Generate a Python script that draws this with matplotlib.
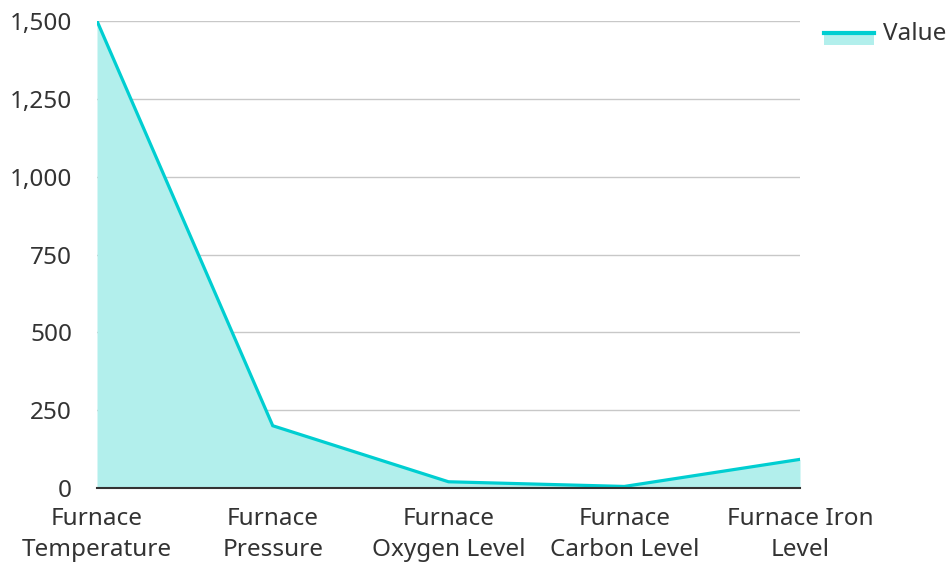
import matplotlib
matplotlib.use("Agg")
import matplotlib.pyplot as plt
from matplotlib.ticker import FuncFormatter
from matplotlib.patches import Rectangle
from matplotlib.lines import Line2D

categories = ["Furnace\nTemperature", "Furnace\nPressure", "Furnace\nOxygen Level",
              "Furnace\nCarbon Level", "Furnace Iron\nLevel"]
values = [1500, 200, 20, 5, 92]
yticks = [0, 250, 500, 750, 1000, 1250, 1500]
series_name = "Value"

plt.rcParams['font.family'] = ['Noto Sans', 'DejaVu Sans']
text_color = "#333333"
line_color = "#00CED1"
fill_color = "#B2EFEC"

fig = plt.figure(figsize=(9.49, 5.62), dpi=100)
ax = fig.add_axes([97/949, 1-488/562, (800-97)/949, (488-21)/562])

x = list(range(len(categories)))
ax.fill_between(x, values, 0, color=fill_color, linewidth=0, zorder=1)
ax.plot(x, values, color=line_color, linewidth=2.3, zorder=3, solid_joinstyle='miter')

ax.set_xlim(0, len(categories) - 1)
ax.set_ylim(0, 1500)
ax.set_yticks(yticks)
ax.yaxis.set_major_formatter(FuncFormatter(lambda v, p: f"{int(v):,}"))
ax.set_xticks(x)
ax.set_xticklabels(categories, linespacing=1.43)

ax.grid(axis='y', color="#c8c8c8", linewidth=1)
ax.set_axisbelow(True)
for s in ["top", "right", "left"]:
    ax.spines[s].set_visible(False)
ax.spines["bottom"].set_color("#333333")
ax.spines["bottom"].set_linewidth(1.5)
ax.spines["bottom"].set_zorder(4)
ax.tick_params(axis='both', length=0, labelsize=17.5, colors=text_color)
ax.tick_params(axis='y', pad=18)
ax.tick_params(axis='x', pad=13.5)

# legend
fig.add_artist(Rectangle((824/949, 1-45/562), 50/949, 10/562, transform=fig.transFigure,
                         facecolor=fill_color, edgecolor='none'))
fig.add_artist(Line2D([824/949, 874/949], [1-33/562, 1-33/562], transform=fig.transFigure,
                      color=line_color, linewidth=3))
fig.text(883/949, 1-34/562, series_name, fontsize=17.5, color=text_color, va='center', ha='left')

fig.savefig("out.png", dpi=100)
